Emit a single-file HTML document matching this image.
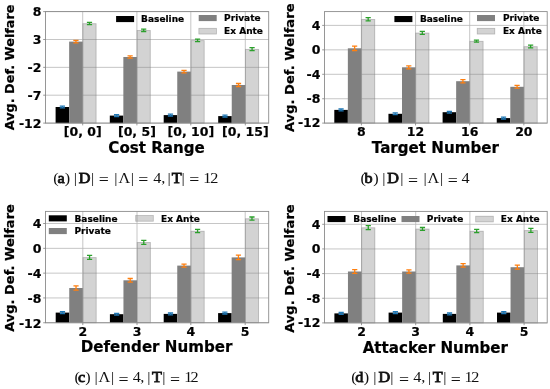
<!DOCTYPE html>
<html><head><meta charset="utf-8"><title>Figure</title>
<style>html,body{margin:0;padding:0;background:#fff}svg{display:block}.s{font-family:"DejaVu Sans", "Liberation Sans", sans-serif;font-weight:bold;fill:#000;stroke:#000;stroke-width:.2px}.c{font-family:"Liberation Serif", "DejaVu Serif", serif;fill:#111}</style></head><body>
<svg width="550" height="389" viewBox="0 0 550 389">
<rect width="550" height="389" fill="#fff"/>
<g id="chart-a">
<line x1="45.50" y1="11.60" x2="268.70" y2="11.60" stroke="#b8b8b8" stroke-width="0.8"/>
<line x1="45.50" y1="39.50" x2="268.70" y2="39.50" stroke="#b8b8b8" stroke-width="0.8"/>
<line x1="45.50" y1="67.35" x2="268.70" y2="67.35" stroke="#b8b8b8" stroke-width="0.8"/>
<line x1="45.50" y1="95.20" x2="268.70" y2="95.20" stroke="#b8b8b8" stroke-width="0.8"/>
<line x1="45.50" y1="123.10" x2="268.70" y2="123.10" stroke="#b8b8b8" stroke-width="0.8"/>
<line x1="82.70" y1="11.60" x2="82.70" y2="123.10" stroke="#b8b8b8" stroke-width="0.8"/>
<line x1="136.90" y1="11.60" x2="136.90" y2="123.10" stroke="#b8b8b8" stroke-width="0.8"/>
<line x1="190.80" y1="11.60" x2="190.80" y2="123.10" stroke="#b8b8b8" stroke-width="0.8"/>
<line x1="245.30" y1="11.60" x2="245.30" y2="123.10" stroke="#b8b8b8" stroke-width="0.8"/>
<rect x="55.60" y="107.00" width="13.55" height="16.10" fill="#000000"/>
<rect x="69.15" y="41.60" width="13.55" height="81.50" fill="#808080"/>
<rect x="82.70" y="23.50" width="13.55" height="99.60" fill="#808080" fill-opacity="0.35"/>
<rect x="82.90" y="23.70" width="13.15" height="99.40" fill="none" stroke="#808080" stroke-opacity="0.4" stroke-width="0.9"/>
<rect x="109.80" y="115.60" width="13.55" height="7.50" fill="#000000"/>
<rect x="123.35" y="57.00" width="13.55" height="66.10" fill="#808080"/>
<rect x="136.90" y="30.30" width="13.55" height="92.80" fill="#808080" fill-opacity="0.35"/>
<rect x="137.10" y="30.50" width="13.15" height="92.60" fill="none" stroke="#808080" stroke-opacity="0.4" stroke-width="0.9"/>
<rect x="163.70" y="115.10" width="13.55" height="8.00" fill="#000000"/>
<rect x="177.25" y="71.60" width="13.55" height="51.50" fill="#808080"/>
<rect x="190.80" y="40.40" width="13.55" height="82.70" fill="#808080" fill-opacity="0.35"/>
<rect x="191.00" y="40.60" width="13.15" height="82.50" fill="none" stroke="#808080" stroke-opacity="0.4" stroke-width="0.9"/>
<rect x="218.20" y="116.10" width="13.55" height="7.00" fill="#000000"/>
<rect x="231.75" y="85.00" width="13.55" height="38.10" fill="#808080"/>
<rect x="245.30" y="49.20" width="13.55" height="73.90" fill="#808080" fill-opacity="0.35"/>
<rect x="245.50" y="49.40" width="13.15" height="73.70" fill="none" stroke="#808080" stroke-opacity="0.4" stroke-width="0.9"/>
<path d="M62.38 106.10V107.90M59.77 106.10H64.97M59.77 107.90H64.97" stroke="#1f77b4" stroke-width="1.3" fill="none"/>
<path d="M75.93 40.40V42.80M73.33 40.40H78.53M73.33 42.80H78.53" stroke="#ff7f0e" stroke-width="1.3" fill="none"/>
<path d="M89.48 22.30V24.70M86.88 22.30H92.08M86.88 24.70H92.08" stroke="#2ca02c" stroke-width="1.3" fill="none"/>
<path d="M116.58 114.70V116.50M113.98 114.70H119.18M113.98 116.50H119.18" stroke="#1f77b4" stroke-width="1.3" fill="none"/>
<path d="M130.12 55.80V58.20M127.53 55.80H132.72M127.53 58.20H132.72" stroke="#ff7f0e" stroke-width="1.3" fill="none"/>
<path d="M143.68 29.10V31.50M141.08 29.10H146.28M141.08 31.50H146.28" stroke="#2ca02c" stroke-width="1.3" fill="none"/>
<path d="M170.48 114.20V116.00M167.88 114.20H173.08M167.88 116.00H173.08" stroke="#1f77b4" stroke-width="1.3" fill="none"/>
<path d="M184.03 70.40V72.80M181.43 70.40H186.63M181.43 72.80H186.63" stroke="#ff7f0e" stroke-width="1.3" fill="none"/>
<path d="M197.58 39.20V41.60M194.98 39.20H200.18M194.98 41.60H200.18" stroke="#2ca02c" stroke-width="1.3" fill="none"/>
<path d="M224.98 115.20V117.00M222.38 115.20H227.58M222.38 117.00H227.58" stroke="#1f77b4" stroke-width="1.3" fill="none"/>
<path d="M238.53 83.50V86.50M235.93 83.50H241.13M235.93 86.50H241.13" stroke="#ff7f0e" stroke-width="1.3" fill="none"/>
<path d="M252.08 47.70V50.70M249.48 47.70H254.68M249.48 50.70H254.68" stroke="#2ca02c" stroke-width="1.3" fill="none"/>
<rect x="45.50" y="11.60" width="223.20" height="111.50" fill="none" stroke="#8c8c8c" stroke-width="0.9"/>
<line x1="43.20" y1="11.60" x2="45.50" y2="11.60" stroke="#808080" stroke-width="0.8"/>
<text class="s" x="41.50" y="16.35" font-size="12.5" text-anchor="end">8</text>
<line x1="43.20" y1="39.50" x2="45.50" y2="39.50" stroke="#808080" stroke-width="0.8"/>
<text class="s" x="41.50" y="44.25" font-size="12.5" text-anchor="end">3</text>
<line x1="43.20" y1="67.35" x2="45.50" y2="67.35" stroke="#808080" stroke-width="0.8"/>
<text class="s" x="41.50" y="72.10" font-size="12.5" text-anchor="end">-2</text>
<line x1="43.20" y1="95.20" x2="45.50" y2="95.20" stroke="#808080" stroke-width="0.8"/>
<text class="s" x="41.50" y="99.95" font-size="12.5" text-anchor="end">-7</text>
<line x1="43.20" y1="123.10" x2="45.50" y2="123.10" stroke="#808080" stroke-width="0.8"/>
<text class="s" x="41.50" y="127.85" font-size="12.5" text-anchor="end">-12</text>
<line x1="82.70" y1="123.10" x2="82.70" y2="125.40" stroke="#808080" stroke-width="0.8"/>
<text class="s" x="82.70" y="136.30" font-size="12.5" text-anchor="middle">[0, 0]</text>
<line x1="136.90" y1="123.10" x2="136.90" y2="125.40" stroke="#808080" stroke-width="0.8"/>
<text class="s" x="136.90" y="136.30" font-size="12.5" text-anchor="middle">[0, 5]</text>
<line x1="190.80" y1="123.10" x2="190.80" y2="125.40" stroke="#808080" stroke-width="0.8"/>
<text class="s" x="190.80" y="136.30" font-size="12.5" text-anchor="middle">[0, 10]</text>
<line x1="245.30" y1="123.10" x2="245.30" y2="125.40" stroke="#808080" stroke-width="0.8"/>
<text class="s" x="245.30" y="136.30" font-size="12.5" text-anchor="middle">[0, 15]</text>
<text class="s" x="156.60" y="152.70" font-size="15.1" text-anchor="middle">Cost Range</text>
<text class="s" transform="translate(14.00 67.35) rotate(-90)" font-size="12.8" text-anchor="middle">Avg. Def. Welfare</text>
<rect x="116.10" y="16.00" width="18.0" height="6.1" fill="#000"/>
<text class="s" x="141.10" y="22.30" font-size="9.0">Baseline</text>
<rect x="198.70" y="15.00" width="18.0" height="6.1" fill="#808080"/>
<text class="s" x="224.10" y="21.30" font-size="9.0">Private</text>
<rect x="198.70" y="28.10" width="18.0" height="6.1" fill="#808080" fill-opacity="0.35"/>
<rect x="198.90" y="28.30" width="17.6" height="5.7" fill="none" stroke="#808080" stroke-opacity="0.4" stroke-width="0.8"/>
<text class="s" x="224.10" y="34.40" font-size="9.0">Ex Ante</text>
</g>
<g id="chart-b">
<line x1="324.50" y1="25.40" x2="547.20" y2="25.40" stroke="#b8b8b8" stroke-width="0.8"/>
<line x1="324.50" y1="49.85" x2="547.20" y2="49.85" stroke="#b8b8b8" stroke-width="0.8"/>
<line x1="324.50" y1="74.30" x2="547.20" y2="74.30" stroke="#b8b8b8" stroke-width="0.8"/>
<line x1="324.50" y1="98.75" x2="547.20" y2="98.75" stroke="#b8b8b8" stroke-width="0.8"/>
<line x1="324.50" y1="123.10" x2="547.20" y2="123.10" stroke="#b8b8b8" stroke-width="0.8"/>
<line x1="361.40" y1="11.60" x2="361.40" y2="123.10" stroke="#b8b8b8" stroke-width="0.8"/>
<line x1="415.55" y1="11.60" x2="415.55" y2="123.10" stroke="#b8b8b8" stroke-width="0.8"/>
<line x1="469.70" y1="11.60" x2="469.70" y2="123.10" stroke="#b8b8b8" stroke-width="0.8"/>
<line x1="523.85" y1="11.60" x2="523.85" y2="123.10" stroke="#b8b8b8" stroke-width="0.8"/>
<rect x="334.30" y="109.90" width="13.55" height="13.20" fill="#000000"/>
<rect x="347.85" y="48.30" width="13.55" height="74.80" fill="#808080"/>
<rect x="361.40" y="19.30" width="13.55" height="103.80" fill="#808080" fill-opacity="0.35"/>
<rect x="361.60" y="19.50" width="13.15" height="103.60" fill="none" stroke="#808080" stroke-opacity="0.4" stroke-width="0.9"/>
<rect x="388.45" y="113.80" width="13.55" height="9.30" fill="#000000"/>
<rect x="402.00" y="67.30" width="13.55" height="55.80" fill="#808080"/>
<rect x="415.55" y="32.90" width="13.55" height="90.20" fill="#808080" fill-opacity="0.35"/>
<rect x="415.75" y="33.10" width="13.15" height="90.00" fill="none" stroke="#808080" stroke-opacity="0.4" stroke-width="0.9"/>
<rect x="442.60" y="112.20" width="13.55" height="10.90" fill="#000000"/>
<rect x="456.15" y="81.20" width="13.55" height="41.90" fill="#808080"/>
<rect x="469.70" y="41.10" width="13.55" height="82.00" fill="#808080" fill-opacity="0.35"/>
<rect x="469.90" y="41.30" width="13.15" height="81.80" fill="none" stroke="#808080" stroke-opacity="0.4" stroke-width="0.9"/>
<rect x="496.75" y="118.10" width="13.55" height="5.00" fill="#000000"/>
<rect x="510.30" y="86.80" width="13.55" height="36.30" fill="#808080"/>
<rect x="523.85" y="46.50" width="13.55" height="76.60" fill="#808080" fill-opacity="0.35"/>
<rect x="524.05" y="46.70" width="13.15" height="76.40" fill="none" stroke="#808080" stroke-opacity="0.4" stroke-width="0.9"/>
<path d="M341.07 109.00V110.80M338.47 109.00H343.67M338.47 110.80H343.67" stroke="#1f77b4" stroke-width="1.3" fill="none"/>
<path d="M354.62 46.10V50.50M352.02 46.10H357.22M352.02 50.50H357.22" stroke="#ff7f0e" stroke-width="1.3" fill="none"/>
<path d="M368.17 17.70V20.90M365.57 17.70H370.77M365.57 20.90H370.77" stroke="#2ca02c" stroke-width="1.3" fill="none"/>
<path d="M395.22 112.90V114.70M392.62 112.90H397.82M392.62 114.70H397.82" stroke="#1f77b4" stroke-width="1.3" fill="none"/>
<path d="M408.77 65.80V68.80M406.17 65.80H411.38M406.17 68.80H411.38" stroke="#ff7f0e" stroke-width="1.3" fill="none"/>
<path d="M422.32 31.40V34.40M419.72 31.40H424.93M419.72 34.40H424.93" stroke="#2ca02c" stroke-width="1.3" fill="none"/>
<path d="M449.37 111.30V113.10M446.77 111.30H451.97M446.77 113.10H451.97" stroke="#1f77b4" stroke-width="1.3" fill="none"/>
<path d="M462.92 79.60V82.80M460.32 79.60H465.52M460.32 82.80H465.52" stroke="#ff7f0e" stroke-width="1.3" fill="none"/>
<path d="M476.47 40.10V42.10M473.87 40.10H479.07M473.87 42.10H479.07" stroke="#2ca02c" stroke-width="1.3" fill="none"/>
<path d="M503.52 117.20V119.00M500.92 117.20H506.12M500.92 119.00H506.12" stroke="#1f77b4" stroke-width="1.3" fill="none"/>
<path d="M517.08 85.40V88.20M514.48 85.40H519.68M514.48 88.20H519.68" stroke="#ff7f0e" stroke-width="1.3" fill="none"/>
<path d="M530.62 45.20V47.80M528.02 45.20H533.23M528.02 47.80H533.23" stroke="#2ca02c" stroke-width="1.3" fill="none"/>
<rect x="324.50" y="11.60" width="222.70" height="111.50" fill="none" stroke="#8c8c8c" stroke-width="0.9"/>
<line x1="322.20" y1="25.40" x2="324.50" y2="25.40" stroke="#808080" stroke-width="0.8"/>
<text class="s" x="320.50" y="29.60" font-size="12.5" text-anchor="end">4</text>
<line x1="322.20" y1="49.85" x2="324.50" y2="49.85" stroke="#808080" stroke-width="0.8"/>
<text class="s" x="320.50" y="54.05" font-size="12.5" text-anchor="end">0</text>
<line x1="322.20" y1="74.30" x2="324.50" y2="74.30" stroke="#808080" stroke-width="0.8"/>
<text class="s" x="320.50" y="78.50" font-size="12.5" text-anchor="end">-4</text>
<line x1="322.20" y1="98.75" x2="324.50" y2="98.75" stroke="#808080" stroke-width="0.8"/>
<text class="s" x="320.50" y="102.95" font-size="12.5" text-anchor="end">-8</text>
<line x1="322.20" y1="123.10" x2="324.50" y2="123.10" stroke="#808080" stroke-width="0.8"/>
<text class="s" x="320.50" y="127.30" font-size="12.5" text-anchor="end">-12</text>
<line x1="361.40" y1="123.10" x2="361.40" y2="125.40" stroke="#808080" stroke-width="0.8"/>
<text class="s" x="361.40" y="136.30" font-size="12.5" text-anchor="middle">8</text>
<line x1="415.55" y1="123.10" x2="415.55" y2="125.40" stroke="#808080" stroke-width="0.8"/>
<text class="s" x="415.55" y="136.30" font-size="12.5" text-anchor="middle">12</text>
<line x1="469.70" y1="123.10" x2="469.70" y2="125.40" stroke="#808080" stroke-width="0.8"/>
<text class="s" x="469.70" y="136.30" font-size="12.5" text-anchor="middle">16</text>
<line x1="523.85" y1="123.10" x2="523.85" y2="125.40" stroke="#808080" stroke-width="0.8"/>
<text class="s" x="523.85" y="136.30" font-size="12.5" text-anchor="middle">20</text>
<text class="s" x="435.35" y="152.70" font-size="15.1" text-anchor="middle">Target Number</text>
<text class="s" transform="translate(293.90 67.75) rotate(-90)" font-size="13.1" text-anchor="middle">Avg. Def. Welfare</text>
<rect x="394.40" y="16.00" width="18.0" height="6.1" fill="#000"/>
<text class="s" x="419.90" y="22.30" font-size="9.0">Baseline</text>
<rect x="477.00" y="15.00" width="18.0" height="6.1" fill="#808080"/>
<text class="s" x="502.90" y="21.30" font-size="9.0">Private</text>
<rect x="477.00" y="28.10" width="18.0" height="6.1" fill="#808080" fill-opacity="0.35"/>
<rect x="477.20" y="28.30" width="17.6" height="5.7" fill="none" stroke="#808080" stroke-opacity="0.4" stroke-width="0.8"/>
<text class="s" x="502.90" y="34.40" font-size="9.0">Ex Ante</text>
</g>
<g id="chart-c">
<line x1="45.50" y1="223.50" x2="268.70" y2="223.50" stroke="#b8b8b8" stroke-width="0.8"/>
<line x1="45.50" y1="248.35" x2="268.70" y2="248.35" stroke="#b8b8b8" stroke-width="0.8"/>
<line x1="45.50" y1="273.15" x2="268.70" y2="273.15" stroke="#b8b8b8" stroke-width="0.8"/>
<line x1="45.50" y1="297.95" x2="268.70" y2="297.95" stroke="#b8b8b8" stroke-width="0.8"/>
<line x1="45.50" y1="322.75" x2="268.70" y2="322.75" stroke="#b8b8b8" stroke-width="0.8"/>
<line x1="82.80" y1="211.40" x2="82.80" y2="322.75" stroke="#b8b8b8" stroke-width="0.8"/>
<line x1="137.00" y1="211.40" x2="137.00" y2="322.75" stroke="#b8b8b8" stroke-width="0.8"/>
<line x1="190.80" y1="211.40" x2="190.80" y2="322.75" stroke="#b8b8b8" stroke-width="0.8"/>
<line x1="245.20" y1="211.40" x2="245.20" y2="322.75" stroke="#b8b8b8" stroke-width="0.8"/>
<rect x="55.70" y="312.60" width="13.55" height="10.15" fill="#000000"/>
<rect x="69.25" y="288.00" width="13.55" height="34.75" fill="#808080"/>
<rect x="82.80" y="257.40" width="13.55" height="65.35" fill="#808080" fill-opacity="0.35"/>
<rect x="83.00" y="257.60" width="13.15" height="65.15" fill="none" stroke="#808080" stroke-opacity="0.4" stroke-width="0.9"/>
<rect x="109.90" y="314.20" width="13.55" height="8.55" fill="#000000"/>
<rect x="123.45" y="280.30" width="13.55" height="42.45" fill="#808080"/>
<rect x="137.00" y="242.30" width="13.55" height="80.45" fill="#808080" fill-opacity="0.35"/>
<rect x="137.20" y="242.50" width="13.15" height="80.25" fill="none" stroke="#808080" stroke-opacity="0.4" stroke-width="0.9"/>
<rect x="163.70" y="313.90" width="13.55" height="8.85" fill="#000000"/>
<rect x="177.25" y="265.60" width="13.55" height="57.15" fill="#808080"/>
<rect x="190.80" y="231.00" width="13.55" height="91.75" fill="#808080" fill-opacity="0.35"/>
<rect x="191.00" y="231.20" width="13.15" height="91.55" fill="none" stroke="#808080" stroke-opacity="0.4" stroke-width="0.9"/>
<rect x="218.10" y="313.10" width="13.55" height="9.65" fill="#000000"/>
<rect x="231.65" y="257.40" width="13.55" height="65.35" fill="#808080"/>
<rect x="245.20" y="218.60" width="13.55" height="104.15" fill="#808080" fill-opacity="0.35"/>
<rect x="245.40" y="218.80" width="13.15" height="103.95" fill="none" stroke="#808080" stroke-opacity="0.4" stroke-width="0.9"/>
<path d="M62.47 311.70V313.50M59.87 311.70H65.07M59.87 313.50H65.07" stroke="#1f77b4" stroke-width="1.3" fill="none"/>
<path d="M76.03 285.80V290.20M73.43 285.80H78.62M73.43 290.20H78.62" stroke="#ff7f0e" stroke-width="1.3" fill="none"/>
<path d="M89.58 255.40V259.40M86.98 255.40H92.17M86.98 259.40H92.17" stroke="#2ca02c" stroke-width="1.3" fill="none"/>
<path d="M116.68 313.30V315.10M114.08 313.30H119.28M114.08 315.10H119.28" stroke="#1f77b4" stroke-width="1.3" fill="none"/>
<path d="M130.22 278.50V282.10M127.62 278.50H132.82M127.62 282.10H132.82" stroke="#ff7f0e" stroke-width="1.3" fill="none"/>
<path d="M143.78 240.30V244.30M141.18 240.30H146.38M141.18 244.30H146.38" stroke="#2ca02c" stroke-width="1.3" fill="none"/>
<path d="M170.48 313.00V314.80M167.88 313.00H173.08M167.88 314.80H173.08" stroke="#1f77b4" stroke-width="1.3" fill="none"/>
<path d="M184.03 264.10V267.10M181.43 264.10H186.63M181.43 267.10H186.63" stroke="#ff7f0e" stroke-width="1.3" fill="none"/>
<path d="M197.58 229.40V232.60M194.98 229.40H200.18M194.98 232.60H200.18" stroke="#2ca02c" stroke-width="1.3" fill="none"/>
<path d="M224.88 312.20V314.00M222.28 312.20H227.47M222.28 314.00H227.47" stroke="#1f77b4" stroke-width="1.3" fill="none"/>
<path d="M238.43 255.20V259.60M235.83 255.20H241.03M235.83 259.60H241.03" stroke="#ff7f0e" stroke-width="1.3" fill="none"/>
<path d="M251.97 217.00V220.20M249.38 217.00H254.57M249.38 220.20H254.57" stroke="#2ca02c" stroke-width="1.3" fill="none"/>
<rect x="45.50" y="211.40" width="223.20" height="111.35" fill="none" stroke="#8c8c8c" stroke-width="0.9"/>
<line x1="43.20" y1="223.50" x2="45.50" y2="223.50" stroke="#808080" stroke-width="0.8"/>
<text class="s" x="41.50" y="228.40" font-size="12.5" text-anchor="end">4</text>
<line x1="43.20" y1="248.35" x2="45.50" y2="248.35" stroke="#808080" stroke-width="0.8"/>
<text class="s" x="41.50" y="253.25" font-size="12.5" text-anchor="end">0</text>
<line x1="43.20" y1="273.15" x2="45.50" y2="273.15" stroke="#808080" stroke-width="0.8"/>
<text class="s" x="41.50" y="278.05" font-size="12.5" text-anchor="end">-4</text>
<line x1="43.20" y1="297.95" x2="45.50" y2="297.95" stroke="#808080" stroke-width="0.8"/>
<text class="s" x="41.50" y="302.85" font-size="12.5" text-anchor="end">-8</text>
<line x1="43.20" y1="322.75" x2="45.50" y2="322.75" stroke="#808080" stroke-width="0.8"/>
<text class="s" x="41.50" y="327.65" font-size="12.5" text-anchor="end">-12</text>
<line x1="82.80" y1="322.75" x2="82.80" y2="325.05" stroke="#808080" stroke-width="0.8"/>
<text class="s" x="82.80" y="335.95" font-size="12.5" text-anchor="middle">2</text>
<line x1="137.00" y1="322.75" x2="137.00" y2="325.05" stroke="#808080" stroke-width="0.8"/>
<text class="s" x="137.00" y="335.95" font-size="12.5" text-anchor="middle">3</text>
<line x1="190.80" y1="322.75" x2="190.80" y2="325.05" stroke="#808080" stroke-width="0.8"/>
<text class="s" x="190.80" y="335.95" font-size="12.5" text-anchor="middle">4</text>
<line x1="245.20" y1="322.75" x2="245.20" y2="325.05" stroke="#808080" stroke-width="0.8"/>
<text class="s" x="245.20" y="335.95" font-size="12.5" text-anchor="middle">5</text>
<text class="s" x="156.60" y="352.35" font-size="15.1" text-anchor="middle">Defender Number</text>
<text class="s" transform="translate(14.00 267.97) rotate(-90)" font-size="13.0" text-anchor="middle">Avg. Def. Welfare</text>
<rect x="48.80" y="215.30" width="18.0" height="6.1" fill="#000"/>
<text class="s" x="74.50" y="221.60" font-size="9.0">Baseline</text>
<rect x="48.80" y="228.00" width="18.0" height="6.1" fill="#808080"/>
<text class="s" x="74.50" y="234.30" font-size="9.0">Private</text>
<rect x="135.50" y="215.30" width="18.0" height="6.1" fill="#808080" fill-opacity="0.35"/>
<rect x="135.70" y="215.50" width="17.6" height="5.7" fill="none" stroke="#808080" stroke-opacity="0.4" stroke-width="0.8"/>
<text class="s" x="161.00" y="221.60" font-size="9.0">Ex Ante</text>
</g>
<g id="chart-d">
<line x1="324.50" y1="224.30" x2="547.20" y2="224.30" stroke="#b8b8b8" stroke-width="0.8"/>
<line x1="324.50" y1="248.95" x2="547.20" y2="248.95" stroke="#b8b8b8" stroke-width="0.8"/>
<line x1="324.50" y1="273.60" x2="547.20" y2="273.60" stroke="#b8b8b8" stroke-width="0.8"/>
<line x1="324.50" y1="298.25" x2="547.20" y2="298.25" stroke="#b8b8b8" stroke-width="0.8"/>
<line x1="324.50" y1="322.90" x2="547.20" y2="322.90" stroke="#b8b8b8" stroke-width="0.8"/>
<line x1="361.50" y1="211.40" x2="361.50" y2="322.90" stroke="#b8b8b8" stroke-width="0.8"/>
<line x1="415.70" y1="211.40" x2="415.70" y2="322.90" stroke="#b8b8b8" stroke-width="0.8"/>
<line x1="469.90" y1="211.40" x2="469.90" y2="322.90" stroke="#b8b8b8" stroke-width="0.8"/>
<line x1="524.10" y1="211.40" x2="524.10" y2="322.90" stroke="#b8b8b8" stroke-width="0.8"/>
<rect x="334.40" y="313.40" width="13.55" height="9.50" fill="#000000"/>
<rect x="347.95" y="271.50" width="13.55" height="51.40" fill="#808080"/>
<rect x="361.50" y="227.60" width="13.55" height="95.30" fill="#808080" fill-opacity="0.35"/>
<rect x="361.70" y="227.80" width="13.15" height="95.10" fill="none" stroke="#808080" stroke-opacity="0.4" stroke-width="0.9"/>
<rect x="388.60" y="312.60" width="13.55" height="10.30" fill="#000000"/>
<rect x="402.15" y="271.50" width="13.55" height="51.40" fill="#808080"/>
<rect x="415.70" y="228.90" width="13.55" height="94.00" fill="#808080" fill-opacity="0.35"/>
<rect x="415.90" y="229.10" width="13.15" height="93.80" fill="none" stroke="#808080" stroke-opacity="0.4" stroke-width="0.9"/>
<rect x="442.80" y="313.90" width="13.55" height="9.00" fill="#000000"/>
<rect x="456.35" y="265.40" width="13.55" height="57.50" fill="#808080"/>
<rect x="469.90" y="231.00" width="13.55" height="91.90" fill="#808080" fill-opacity="0.35"/>
<rect x="470.10" y="231.20" width="13.15" height="91.70" fill="none" stroke="#808080" stroke-opacity="0.4" stroke-width="0.9"/>
<rect x="497.00" y="312.60" width="13.55" height="10.30" fill="#000000"/>
<rect x="510.55" y="267.20" width="13.55" height="55.70" fill="#808080"/>
<rect x="524.10" y="230.40" width="13.55" height="92.50" fill="#808080" fill-opacity="0.35"/>
<rect x="524.30" y="230.60" width="13.15" height="92.30" fill="none" stroke="#808080" stroke-opacity="0.4" stroke-width="0.9"/>
<path d="M341.17 312.50V314.30M338.57 312.50H343.77M338.57 314.30H343.77" stroke="#1f77b4" stroke-width="1.3" fill="none"/>
<path d="M354.72 269.70V273.30M352.12 269.70H357.32M352.12 273.30H357.32" stroke="#ff7f0e" stroke-width="1.3" fill="none"/>
<path d="M368.27 225.60V229.60M365.67 225.60H370.88M365.67 229.60H370.88" stroke="#2ca02c" stroke-width="1.3" fill="none"/>
<path d="M395.37 311.70V313.50M392.77 311.70H397.97M392.77 313.50H397.97" stroke="#1f77b4" stroke-width="1.3" fill="none"/>
<path d="M408.92 269.90V273.10M406.32 269.90H411.52M406.32 273.10H411.52" stroke="#ff7f0e" stroke-width="1.3" fill="none"/>
<path d="M422.47 227.50V230.30M419.87 227.50H425.07M419.87 230.30H425.07" stroke="#2ca02c" stroke-width="1.3" fill="none"/>
<path d="M449.57 313.00V314.80M446.97 313.00H452.17M446.97 314.80H452.17" stroke="#1f77b4" stroke-width="1.3" fill="none"/>
<path d="M463.12 263.60V267.20M460.52 263.60H465.72M460.52 267.20H465.72" stroke="#ff7f0e" stroke-width="1.3" fill="none"/>
<path d="M476.67 229.40V232.60M474.07 229.40H479.27M474.07 232.60H479.27" stroke="#2ca02c" stroke-width="1.3" fill="none"/>
<path d="M503.77 311.70V313.50M501.17 311.70H506.38M501.17 313.50H506.38" stroke="#1f77b4" stroke-width="1.3" fill="none"/>
<path d="M517.33 265.20V269.20M514.73 265.20H519.93M514.73 269.20H519.93" stroke="#ff7f0e" stroke-width="1.3" fill="none"/>
<path d="M530.88 228.40V232.40M528.27 228.40H533.48M528.27 232.40H533.48" stroke="#2ca02c" stroke-width="1.3" fill="none"/>
<rect x="324.50" y="211.40" width="222.70" height="111.50" fill="none" stroke="#8c8c8c" stroke-width="0.9"/>
<line x1="322.20" y1="224.30" x2="324.50" y2="224.30" stroke="#808080" stroke-width="0.8"/>
<text class="s" x="320.50" y="228.70" font-size="12.5" text-anchor="end">4</text>
<line x1="322.20" y1="248.95" x2="324.50" y2="248.95" stroke="#808080" stroke-width="0.8"/>
<text class="s" x="320.50" y="253.35" font-size="12.5" text-anchor="end">0</text>
<line x1="322.20" y1="273.60" x2="324.50" y2="273.60" stroke="#808080" stroke-width="0.8"/>
<text class="s" x="320.50" y="278.00" font-size="12.5" text-anchor="end">-4</text>
<line x1="322.20" y1="298.25" x2="324.50" y2="298.25" stroke="#808080" stroke-width="0.8"/>
<text class="s" x="320.50" y="302.65" font-size="12.5" text-anchor="end">-8</text>
<line x1="322.20" y1="322.90" x2="324.50" y2="322.90" stroke="#808080" stroke-width="0.8"/>
<text class="s" x="320.50" y="327.30" font-size="12.5" text-anchor="end">-12</text>
<line x1="361.50" y1="322.90" x2="361.50" y2="325.20" stroke="#808080" stroke-width="0.8"/>
<text class="s" x="361.50" y="336.10" font-size="12.5" text-anchor="middle">2</text>
<line x1="415.70" y1="322.90" x2="415.70" y2="325.20" stroke="#808080" stroke-width="0.8"/>
<text class="s" x="415.70" y="336.10" font-size="12.5" text-anchor="middle">3</text>
<line x1="469.90" y1="322.90" x2="469.90" y2="325.20" stroke="#808080" stroke-width="0.8"/>
<text class="s" x="469.90" y="336.10" font-size="12.5" text-anchor="middle">4</text>
<line x1="524.10" y1="322.90" x2="524.10" y2="325.20" stroke="#808080" stroke-width="0.8"/>
<text class="s" x="524.10" y="336.10" font-size="12.5" text-anchor="middle">5</text>
<text class="s" x="435.35" y="352.50" font-size="15.1" text-anchor="middle">Attacker Number</text>
<text class="s" transform="translate(293.90 268.55) rotate(-90)" font-size="13.1" text-anchor="middle">Avg. Def. Welfare</text>
<rect x="327.50" y="216.00" width="18.0" height="6.1" fill="#000"/>
<text class="s" x="353.30" y="222.30" font-size="9.0">Baseline</text>
<rect x="401.50" y="216.00" width="18.0" height="6.1" fill="#808080"/>
<text class="s" x="426.80" y="222.30" font-size="9.0">Private</text>
<rect x="475.50" y="216.00" width="18.0" height="6.1" fill="#808080" fill-opacity="0.35"/>
<rect x="475.70" y="216.20" width="17.6" height="5.7" fill="none" stroke="#808080" stroke-opacity="0.4" stroke-width="0.8"/>
<text class="s" x="500.80" y="222.30" font-size="9.0">Ex Ante</text>
</g>
<g transform="translate(0 182.90) scale(1.080 1)"><text class="c" y="0" font-size="15.0"><tspan x="49.34" y="0">(</tspan><tspan x="53.33" y="0" stroke="#111" stroke-width="0.8">a</tspan><tspan x="59.89" y="0">) </tspan><tspan x="68.41" y="0">|</tspan><tspan x="72.84" y="0" stroke="#111" stroke-width="0.8">D</tspan><tspan x="84.24" y="0">| </tspan><tspan x="91.54" y="2.5" font-size="16.5">= </tspan><tspan x="105.91" y="0">|</tspan><tspan x="109.66" y="0">Λ</tspan><tspan x="121.09" y="0">| </tspan><tspan x="128.12" y="2.5" font-size="16.5">= </tspan><tspan x="141.90" y="0">4</tspan><tspan x="149.24" y="0">, </tspan><tspan x="154.98" y="0">|</tspan><tspan x="159.04" y="0" stroke="#111" stroke-width="0.8">T</tspan><tspan x="168.13" y="0">| </tspan><tspan x="175.15" y="2.5" font-size="16.5">= </tspan><tspan x="188.19" y="0">1</tspan><tspan x="194.68" y="0">2</tspan></text></g>
<g transform="translate(0 183.20) scale(1.080 1)"><text class="c" y="0" font-size="15.0"><tspan x="333.78" y="0">(</tspan><tspan x="337.55" y="0" stroke="#111" stroke-width="0.8">b</tspan><tspan x="345.64" y="0">) </tspan><tspan x="353.87" y="0">|</tspan><tspan x="358.67" y="0" stroke="#111" stroke-width="0.8">D</tspan><tspan x="370.72" y="0">| </tspan><tspan x="377.75" y="2.5" font-size="16.5">= </tspan><tspan x="392.20" y="0">|</tspan><tspan x="395.95" y="0">Λ</tspan><tspan x="407.48" y="0">| </tspan><tspan x="414.51" y="2.5" font-size="16.5">= </tspan><tspan x="427.27" y="0">4</tspan></text></g>
<g transform="translate(0 382.40) scale(1.080 1)"><text class="c" y="0" font-size="15.0"><tspan x="68.88" y="0">(</tspan><tspan x="72.31" y="0" stroke="#111" stroke-width="0.8">c</tspan><tspan x="78.97" y="0">) </tspan><tspan x="87.48" y="0">|</tspan><tspan x="91.32" y="0">Λ</tspan><tspan x="102.76" y="0">| </tspan><tspan x="109.69" y="2.5" font-size="16.5">= </tspan><tspan x="122.82" y="0">4</tspan><tspan x="129.79" y="0">, </tspan><tspan x="136.46" y="0">|</tspan><tspan x="140.70" y="0" stroke="#111" stroke-width="0.8">T</tspan><tspan x="150.17" y="0">| </tspan><tspan x="157.38" y="2.5" font-size="16.5">= </tspan><tspan x="170.60" y="0">1</tspan><tspan x="176.34" y="0">2</tspan></text></g>
<g transform="translate(0 382.40) scale(1.080 1)"><text class="c" y="0" font-size="15.0"><tspan x="325.36" y="0">(</tspan><tspan x="329.03" y="0" stroke="#111" stroke-width="0.8">d</tspan><tspan x="336.93" y="0">) </tspan><tspan x="345.63" y="0">|</tspan><tspan x="350.43" y="0" stroke="#111" stroke-width="0.8">D</tspan><tspan x="361.37" y="0">| </tspan><tspan x="369.51" y="2.5" font-size="16.5">= </tspan><tspan x="382.73" y="0">4</tspan><tspan x="390.07" y="0">, </tspan><tspan x="396.28" y="0">|</tspan><tspan x="400.80" y="0" stroke="#111" stroke-width="0.8">T</tspan><tspan x="410.44" y="0">| </tspan><tspan x="417.38" y="2.5" font-size="16.5">= </tspan><tspan x="430.14" y="0">1</tspan><tspan x="436.34" y="0">2</tspan></text></g>
</svg></body></html>
